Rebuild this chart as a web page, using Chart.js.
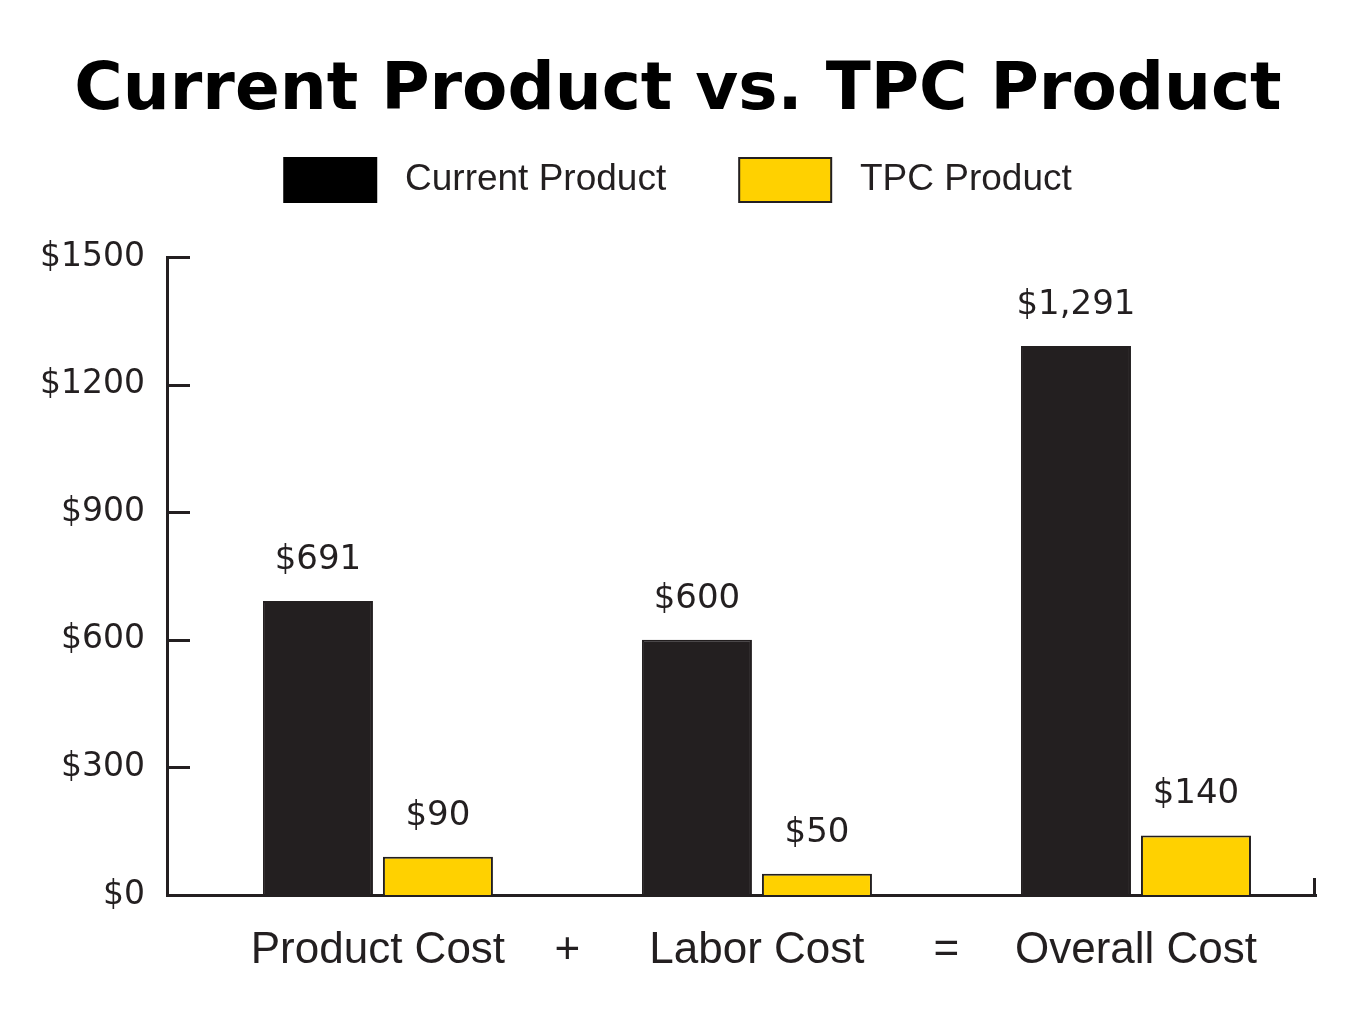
<!DOCTYPE html>
<html>
<head>
<meta charset="utf-8">
<script src="https://cdn.jsdelivr.net/npm/chart.js@4.4.1/dist/chart.umd.min.js"></script>
<style>
  html, body { margin: 0; padding: 0; background: #ffffff; }
  #wrap { width: 1348px; height: 1027px; }
</style>
</head>
<body>
<div id="wrap"><canvas id="c"></canvas></div>
<script>
// ---- data ----
const categories = ['Product Cost', 'Labor Cost', 'Overall Cost'];
const operators = ['+', '='];
const seriesNames = ['Current Product', 'TPC Product'];
const currentProduct = [691, 600, 1291];
const tpcProduct = [90, 50, 140];
const yTicks = [0, 300, 600, 900, 1200, 1500];
const chartTitle = 'Current Product vs. TPC Product';

// interleave category labels with the operators between them
const xLabels = [];
categories.forEach((c, i) => {
  xLabels.push(c);
  if (i < operators.length) xLabels.push(operators[i]);
});
const toPoints = arr => arr.map((v, i) => ({ x: xLabels.indexOf(categories[i]), y: v }));

const INK = '#231f20';
const YELLOW = '#ffd100';

const innerTicks = {
  id: 'innerTicks',
  afterDraw(chart) {
    const { ctx, chartArea, scales } = chart;
    ctx.save();
    ctx.strokeStyle = INK;
    ctx.lineWidth = 3;
    ctx.beginPath();
    yTicks.forEach(v => {
      const y = Math.round(scales.y.getPixelForValue(v)) + 0.5;
      ctx.moveTo(chartArea.left, y);
      ctx.lineTo(chartArea.left + 23, y);
    });
    const xr = chartArea.right - 1.5;
    ctx.moveTo(xr, chartArea.bottom);
    ctx.lineTo(xr, chartArea.bottom - 17);
    ctx.stroke();
    ctx.restore();
  }
};

const valueLabels = {
  id: 'valueLabels',
  afterDatasetsDraw(chart) {
    const { ctx } = chart;
    ctx.save();
    ctx.font = '34px "DejaVu Sans"';
    ctx.fillStyle = INK;
    ctx.textAlign = 'center';
    ctx.textBaseline = 'middle';
    chart.data.datasets.forEach((ds, di) => {
      const meta = chart.getDatasetMeta(di);
      meta.data.forEach((el, i) => {
        const v = ds.data[i].y;
        ctx.fillText('$' + v.toLocaleString('en-US'), el.x, el.y - 41);
      });
    });
    ctx.restore();
  }
};

const legendSpacing = {
  id: 'legendSpacing',
  beforeInit(chart) {
    const origFit = chart.legend.fit;
    chart.legend.fit = function () {
      origFit.call(this);
      this.height = 172;
    };
  }
};

new Chart(document.getElementById('c'), {
  type: 'bar',
  data: {
    datasets: [
      {
        label: seriesNames[0],
        data: toPoints(currentProduct),
        backgroundColor: INK,
        borderColor: INK,
        borderWidth: 2,
        borderSkipped: 'start'
      },
      {
        label: seriesNames[1],
        data: toPoints(tpcProduct),
        backgroundColor: YELLOW,
        borderColor: INK,
        borderWidth: 2,
        borderSkipped: 'start'
      }
    ]
  },
  options: {
    responsive: true,
    maintainAspectRatio: false,
    animation: false,
    devicePixelRatio: 1,
    categoryPercentage: 1.2665,
    barPercentage: 0.9167,
    layout: { padding: { top: 0, right: 32, bottom: 0, left: 40 } },
    plugins: {
      title: {
        display: true,
        text: chartTitle,
        color: '#000000',
        font: { family: '"DejaVu Sans"', size: 66, weight: 'bold', lineHeight: 1.2 },
        padding: { top: 52, bottom: -46.2 }
      },
      legend: {
        display: true,
        position: 'top',
        labels: {
          boxWidth: 92,
          boxHeight: 44,
          padding: 73,
          color: INK,
          font: { family: '"Liberation Sans", Arial, sans-serif', size: 37 },
          generateLabels(chart) {
            const items = Chart.defaults.plugins.legend.labels.generateLabels(chart);
            items.forEach((it, i) => {
              it.text = ' ' + it.text;
              if (i === 0) { it.fillStyle = '#000000'; it.strokeStyle = '#000000'; }
            });
            return items;
          }
        }
      },
      tooltip: { enabled: false }
    },
    scales: {
      x: {
        type: 'linear',
        min: -1.113,
        max: 4.95,
        offset: false,
        grid: { display: false, drawTicks: false },
        border: { display: true, color: INK, width: 3 },
        afterBuildTicks(scale) {
          scale.ticks = xLabels.map((_, i) => ({ value: i }));
        },
        afterFit(scale) { scale.height = 132; },
        ticks: {
          autoSkip: false,
          maxRotation: 0,
          minRotation: 0,
          padding: 29,
          color: INK,
          font: { family: '"Liberation Sans", Arial, sans-serif', size: 44 },
          callback: (v) => xLabels[v] ?? ''
        }
      },
      y: {
        min: 0,
        max: 1500,
        grid: { display: false, drawTicks: false },
        border: { display: true, color: INK, width: 3 },
        afterBuildTicks(scale) {
          scale.ticks = yTicks.map(v => ({ value: v }));
        },
        afterFit(scale) { scale.width = 127; },
        ticks: {
          padding: 22,
          color: INK,
          font: { family: '"DejaVu Sans"', size: 33 },
          callback: (v) => '$' + v
        }
      }
    }
  },
  plugins: [innerTicks, valueLabels, legendSpacing]
});
</script>
</body>
</html>
